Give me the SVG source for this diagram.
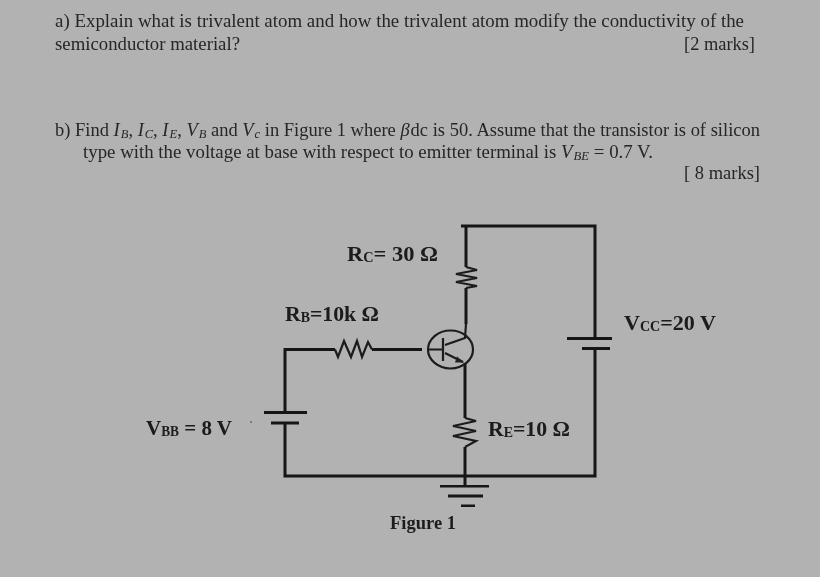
<svg xmlns="http://www.w3.org/2000/svg" width="820" height="577" viewBox="0 0 820 577">
<defs>
<style>
text{font-family:"Liberation Serif","Times New Roman",serif;fill:#1d1d1d}
.q{font-size:19.200px;fill:#262626}
.l{font-size:22px;font-weight:bold;fill:#1a1a1a}
.w{fill:none;stroke:#161616;stroke-width:3;stroke-linejoin:miter}
.t{fill:none;stroke:#1c1c1c;stroke-width:2.200}
</style>
<filter id="soft" x="-5%" y="-5%" width="110%" height="110%"><feGaussianBlur stdDeviation="0.5"/></filter>
</defs>
<rect width="820" height="577" fill="#b2b2b2"/>
<g id="question" filter="url(#soft)">
<text class="q" x="55" y="27" textLength="689" lengthAdjust="spacingAndGlyphs">a) Explain what is trivalent atom and how the trivalent atom modify the conductivity of the</text>
<text class="q" x="55" y="50" textLength="185" lengthAdjust="spacingAndGlyphs">semiconductor material?</text>
<text class="q" x="684" y="50" textLength="71" lengthAdjust="spacingAndGlyphs">[2 marks]</text>
<text class="q" x="55" y="136" textLength="705" lengthAdjust="spacingAndGlyphs">b) Find <tspan font-style="italic">I</tspan><tspan font-style="italic" font-size="13" dy="2" dx="1">B</tspan><tspan dy="-2">, </tspan><tspan font-style="italic">I</tspan><tspan font-style="italic" font-size="13" dy="2" dx="1">C</tspan><tspan dy="-2">, </tspan><tspan font-style="italic">I</tspan><tspan font-style="italic" font-size="13" dy="2" dx="1">E</tspan><tspan dy="-2">, </tspan><tspan font-style="italic">V</tspan><tspan font-style="italic" font-size="13" dy="2" dx="1">B</tspan><tspan dy="-2"> and </tspan><tspan font-style="italic">V</tspan><tspan font-style="italic" font-size="13" dy="2" dx="1">c</tspan><tspan dy="-2"> in Figure 1 where </tspan><tspan font-style="italic">β</tspan><tspan dx="1">dc is 50. Assume that the transistor is of silicon</tspan></text>
<text class="q" x="83" y="158" textLength="570" lengthAdjust="spacingAndGlyphs">type with the voltage at base with respect to emitter terminal is <tspan font-style="italic">V</tspan><tspan font-style="italic" font-size="13" dy="2" dx="1">BE</tspan><tspan dy="-2"> = 0.7 V.</tspan></text>
<text class="q" x="684" y="179" textLength="76" lengthAdjust="spacingAndGlyphs">[ 8 marks]</text>
</g>
<g id="connectors" filter="url(#soft)">
<path class="w" d="M461 226H595V338"/>
<path class="w" d="M595 349V476H285V423"/>
<path class="w" d="M285 412V349.500H335"/>
<path class="w" d="M372 349.500H422" stroke-width="2.400"/>
<path class="w" d="M466 226V267"/>
<path class="w" d="M466 288V324"/>
<path class="w" d="M465 363V418"/>
<path class="w" d="M465 447V486"/>
</g>
<g id="rc" filter="url(#soft)">
<path class="t" d="M466 267L477 270L456 274L477 278L456 282L477 286L466 288"/>
<text class="l" x="347" y="261" textLength="91" lengthAdjust="spacingAndGlyphs">R<tspan font-size="14" dy="1">C</tspan><tspan dy="-1">= 30 Ω</tspan></text>
</g>
<g id="rb" filter="url(#soft)">
<path class="t" d="M335 349.500L338 357L344 341L351 357L357 341L362 357L368 342L372 349.500"/>
<text class="l" x="285" y="321" textLength="94" lengthAdjust="spacingAndGlyphs">R<tspan font-size="14" dy="1">B</tspan><tspan dy="-1">=10k Ω</tspan></text>
</g>
<g id="re" filter="url(#soft)">
<path class="t" d="M465 418L476 421L453 426L476 431L453 436L476 441L465 447"/>
<text class="l" x="488" y="436" textLength="82" lengthAdjust="spacingAndGlyphs">R<tspan font-size="14" dy="1">E</tspan><tspan dy="-1">=10 Ω</tspan></text>
</g>
<g id="transistor" filter="url(#soft)">
<ellipse class="t" cx="450.500" cy="349.500" rx="22.500" ry="19" stroke-width="2.800"/>
<path class="t" d="M443 338V361M428 349.500H443M445 345L465 338L466 324M445 353L463 362"/>
<path d="M464 362.500L455 362.500L457 356.500Z" fill="#202020"/>
</g>
<g id="vbb" filter="url(#soft)">
<path class="w" d="M264 412.500H307M271 423H299"/>
<text class="l" x="146" y="435" textLength="86" lengthAdjust="spacingAndGlyphs">V<tspan font-size="14" dy="1">BB</tspan><tspan dy="-1"> = 8 V</tspan></text>
<circle cx="251" cy="422" r="0.800" fill="#333"/>
</g>
<g id="vcc" filter="url(#soft)">
<path class="w" d="M567 338.500H612M582 348.500H610"/>
<text class="l" x="624" y="330" textLength="92" lengthAdjust="spacingAndGlyphs">V<tspan font-size="14" dy="1">CC</tspan><tspan dy="-1">=20 V</tspan></text>
</g>
<g id="ground" filter="url(#soft)">
<path class="w" d="M440 486H489M448 496H483M461 506H475"/>
</g>
<g id="caption" filter="url(#soft)">
<text x="390" y="529" font-size="19.500" font-weight="bold" fill="#1a1a1a" textLength="66" lengthAdjust="spacingAndGlyphs">Figure 1</text>
</g>
</svg>
